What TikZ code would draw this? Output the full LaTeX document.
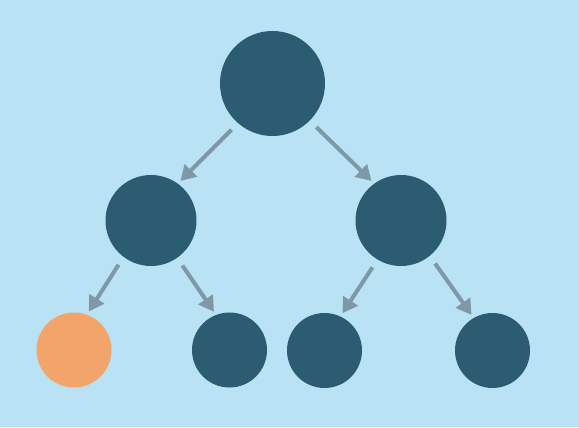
\documentclass[tikz,border=0pt]{standalone}
\usetikzlibrary{arrows.meta}
\definecolor{bgblue}{HTML}{B9E3F4}
\definecolor{nodeblue}{HTML}{2B5C71}
\definecolor{leaforange}{HTML}{F2A46A}
\definecolor{arrowgray}{HTML}{7E98A5}
\tikzset{
  vertex/.style={circle, fill=nodeblue, inner sep=0pt},
  big/.style={vertex, minimum size=2.1cm},
  mid/.style={vertex, minimum size=1.82cm},
  small/.style={vertex, minimum size=1.5cm},
  found/.style={small, fill=leaforange},
  link/.style={draw=arrowgray, line width=0.08cm, shorten <=0.18cm, shorten >=0.07cm,
    -{Triangle[length=0.3cm,width=0.34cm]}}
}
\begin{document}
\begin{tikzpicture}
      \fill[bgblue] (0,0) rectangle (11.58,8.54);
      \useasboundingbox (0,0) rectangle (11.58,8.54);
      \draw
        (5.45,6.87) node[big] (root){}
        (3.02,4.13) node[mid] (l){}
        (8.02,4.13) node[mid] (r){}
        (1.48,1.54) node[found] (ll){}
        (4.59,1.54) node[small] (lr){}
        (6.49,1.53) node[small] (rl){}
        (9.85,1.53) node[small] (rr){};
      \begin{scope}[link]
        \draw (root.-131) to (l.54);
        \draw (root.-45) to (r.126);
        \draw (l.-127) to (ll.70);
        \draw (l.-55) to (lr.111);
        \draw (r.-121) to (rl.65);
        \draw (r.-51) to (rr.120);
      \end{scope}
    \end{tikzpicture}
\end{document}
